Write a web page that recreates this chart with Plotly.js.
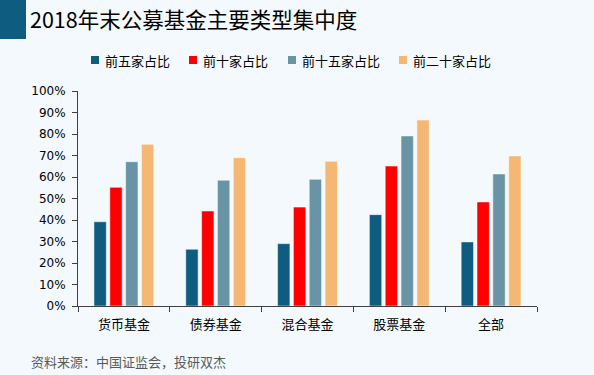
<!DOCTYPE html>
<html><head><meta charset="utf-8">
<script src="https://cdn.plot.ly/plotly-3.0.1.min.js"></script>
<style>body{margin:0;padding:0;background:#F3F9FD}</style>
</head><body><div id="chart" style="width:594px;height:375px"></div>
<script>
var categories = ["货币基金","债券基金","混合基金","股票基金","全部"];
var top5 = [39.2, 26.4, 29.0, 42.5, 29.8];
var top10 = [55.2, 44.2, 46.0, 65.1, 48.4];
var top15 = [67.1, 58.5, 58.9, 79.1, 61.4];
var top20 = [75.2, 69.0, 67.3, 86.5, 69.8];
var seriesNames = ["前五家占比","前十家占比","前十五家占比","前二十家占比"];
var colors = ["#0E5C80","#FF0000","#6894A6","#F4B874"];
var tickVals = [0,10,20,30,40,50,60,70,80,90,100];
var tickText = tickVals.map(function(v){return v+"%";});

var font = "'Noto Sans CJK SC', 'Liberation Sans', sans-serif";
var L = 78, R = 537, T = 91, B = 306;
function px(x){ return (x - L) / (R - L); }
function py(y){ return (B - y) / (B - T); }

var data = [top5, top10, top15, top20].map(function(vals, i){
  return {type:"bar", x:categories, y:vals, name:seriesNames[i], showlegend:false,
    marker:{color:colors[i], line:{color:"rgba(255,255,255,0.5)", width:1}},
    hoverinfo:"skip"};
});

var legendX = [91, 189, 288, 399];
var shapes = [{type:"rect", xref:"paper", yref:"paper", x0:px(0), x1:px(26),
    y0:py(39), y1:py(0), fillcolor:"#0E5C80", line:{width:0}}];
var annotations = [{text:"资料来源：中国证监会，投研双杰", xref:"paper", yref:"paper",
    x:px(29), xanchor:"left", y:py(361), yanchor:"middle", showarrow:false,
    font:{family:font, size:13, color:"#595959"}}];
seriesNames.forEach(function(n, i){
  shapes.push({type:"rect", xref:"paper", yref:"paper", x0:px(legendX[i]), x1:px(legendX[i]+8),
    y0:py(64), y1:py(56), fillcolor:colors[i], line:{width:0}});
  annotations.push({text:n, xref:"paper", yref:"paper", x:px(legendX[i]+12), xanchor:"left",
    y:py(60), yanchor:"middle", showarrow:false, font:{family:font, size:13, color:"#000"}});
});

var layout = {
  width:594, height:375,
  paper_bgcolor:"#F3F9FD", plot_bgcolor:"#F3F9FD",
  margin:{l:L, r:594-R, t:T, b:375-B},
  font:{family:font, color:"#000", size:11},
  barmode:"group", bargap:0.31, bargroupgap:0.22,
  title:{text:"2018年末公募基金主要类型集中度", x:30/594, xanchor:"left", xref:"container",
    y:1-20/375, yanchor:"middle", yref:"container", font:{family:font, size:21.5, color:"#000"}},
  showlegend:false,
  xaxis:{showline:true, linecolor:"#404040", linewidth:1, ticks:"outside", tickson:"boundaries",
    ticklen:5, tickcolor:"#404040", showgrid:false, tickfont:{size:13, family:font},
    ticklabelstandoff:6, fixedrange:true},
  yaxis:{range:[0,100], tickvals:tickVals, ticktext:tickText, showline:true, linecolor:"#404040",
    linewidth:1, ticks:"outside", ticklen:5, tickcolor:"#404040", showgrid:false, zeroline:false,
    tickfont:{size:12, family:"'DejaVu Sans', sans-serif"}, ticklabelstandoff:4, fixedrange:true},
  shapes:shapes,
  annotations:annotations
};
Plotly.newPlot("chart", data, layout, {displayModeBar:false, staticPlot:true});
</script></body></html>
